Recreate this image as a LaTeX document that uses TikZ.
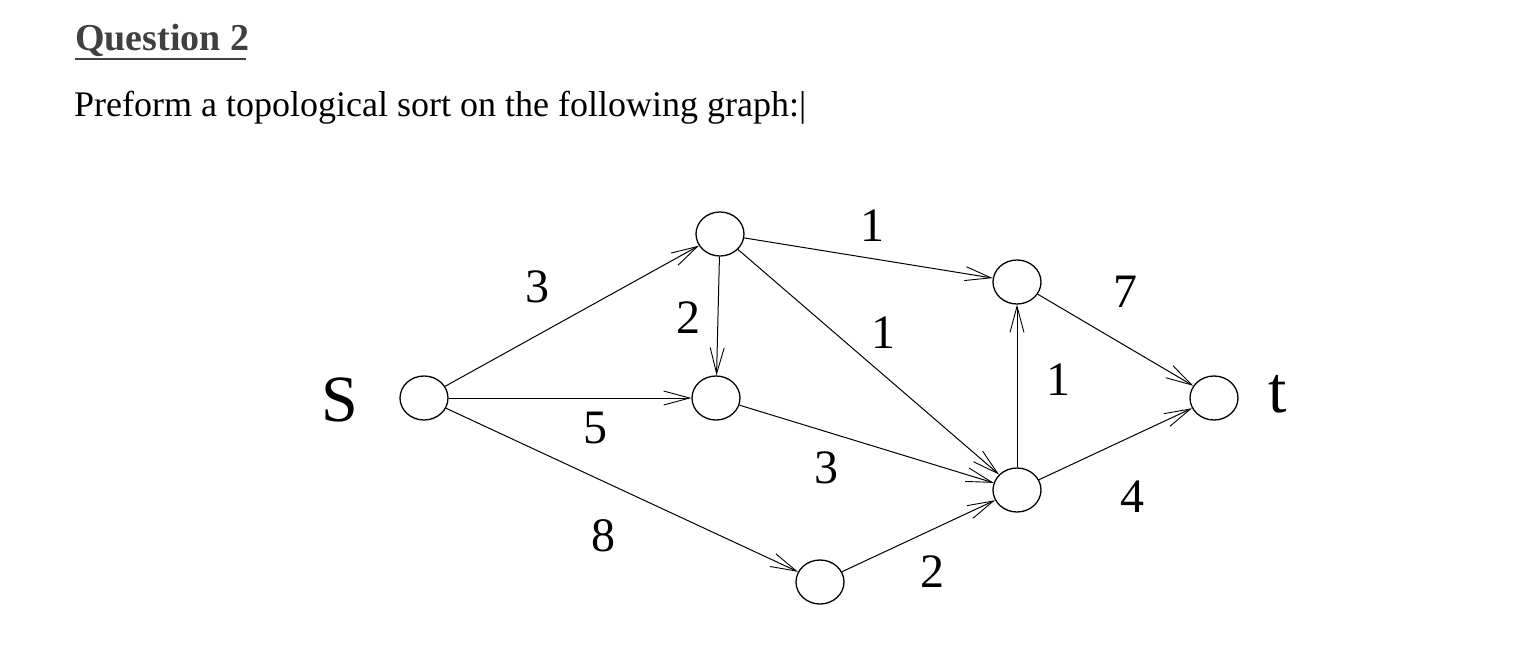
\documentclass[tikz,border=0pt]{standalone}
\usepackage{fontspec}
\setmainfont{Liberation Serif}
\usetikzlibrary{arrows.meta,shapes.geometric}
\begin{document}
\begin{tikzpicture}[x=1pt,y=-1pt,
  vtx/.style={draw,line width=1.3pt,ellipse,minimum width=48pt,minimum height=44pt,inner sep=0pt},
  edge/.style={draw,line width=1pt,-{Straight Barb[length=26pt,width=14pt,line width=0.9pt]}},
  wt/.style={font=\rmfamily\fontsize{48}{48}\selectfont}]
\useasboundingbox (0,0) rectangle (1532,672);
\node[anchor=west,font=\rmfamily\fontsize{38}{38}\selectfont\bfseries,text=black!75,inner sep=0pt] (title) at (75,40) {Question 2};
\coordinate (u1) at (75,59);
\coordinate (u2) at (246,59);
\draw[line width=2pt,black!75] (u1) -- (u2);
\node[anchor=west,font=\rmfamily\fontsize{36}{36}\selectfont,inner sep=0pt] (q) at (74,108) {Preform a topological sort on the following graph:|};
\node[vtx] (s) at (424,398) {};
\node[vtx] (a) at (720,234) {};
\node[vtx] (b) at (716,398) {};
\node[vtx] (c) at (820,582) {};
\node[vtx] (d) at (1017,282) {};
\node[vtx] (e) at (1017,490) {};
\node[vtx] (t) at (1214,398) {};
\node[font=\rmfamily\fontsize{66}{66}\selectfont] (ls) at (340,400) {S};
\node[font=\rmfamily\fontsize{66}{66}\selectfont] (lt) at (1278,394) {t};
\draw[edge] (s) -- (a);
\draw[edge] (s) -- (b);
\draw[edge] (s) -- (c);
\draw[edge] (a) -- (b);
\draw[edge] (a) -- (d);
\draw[edge] (a) -- (e);
\draw[edge] (b) -- (e);
\draw[edge] (c) -- (e);
\draw[edge] (e) -- (d);
\draw[edge] (d) -- (t);
\draw[edge] (e) -- (t);
\node[wt] (w1) at (537,287) {3};
\node[wt] (w2) at (688,318) {2};
\node[wt] (w3) at (872,226) {1};
\node[wt] (w4) at (883,333) {1};
\node[wt] (w5) at (595,428) {5};
\node[wt] (w6) at (826,468) {3};
\node[wt] (w7) at (603,536) {8};
\node[wt] (w8) at (932,572) {2};
\node[wt] (w9) at (1058,380) {1};
\node[wt] (w10) at (1125,292) {7};
\node[wt] (w11) at (1132,497) {4};
\end{tikzpicture}
\end{document}
